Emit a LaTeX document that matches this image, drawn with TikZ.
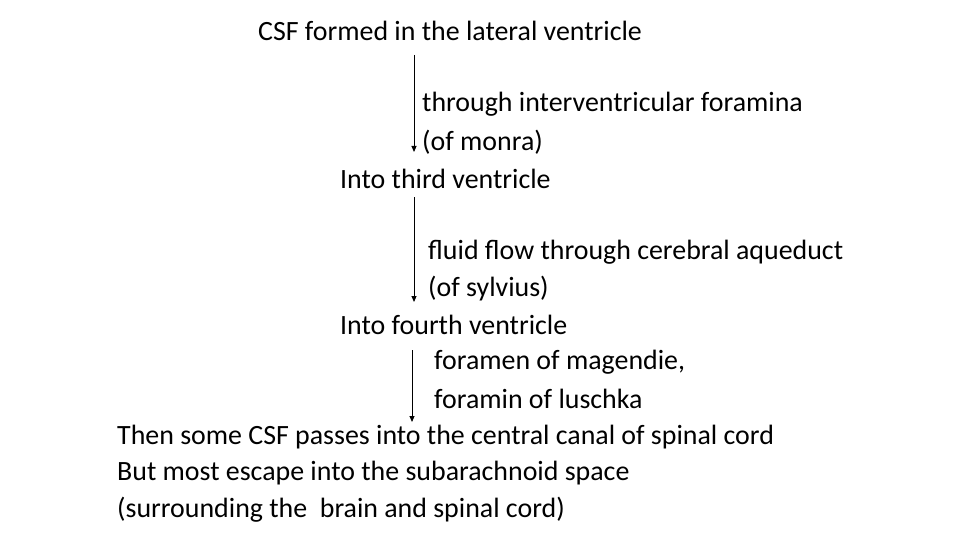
\documentclass[tikz,border=0pt]{standalone}
\usepackage{fontspec}
\setmainfont{Carlito}
\usetikzlibrary{arrows.meta}
\begin{document}
\begin{tikzpicture}[x=1pt,y=-1pt,
  txt/.style={anchor=west,inner sep=0pt,font=\fontsize{27.9}{30}\selectfont},
  flow/.style={-{Triangle[length=6pt,width=5pt]},line width=1pt}]
\useasboundingbox (0,0) rectangle (960,540);
\node[txt] (t1) at (258,31) {CSF formed in the lateral ventricle};
\node[txt] (t2) at (422,104) {through interventricular foramina};
\node[txt] (t3) at (422,142) {(of monra)};
\node[txt] (t4) at (340,179) {Into third ventricle};
\node[txt] (t5) at (428,252) {fluid flow through cerebral aqueduct};
\node[txt] (t6) at (428,289) {(of sylvius)};
\node[txt] (t7) at (340,325) {Into fourth ventricle};
\node[txt] (t8) at (434,362) {foramen of magendie,};
\node[txt] (t9) at (434,399) {foramin of luschka};
\node[txt] (t10) at (117,437) {Then some CSF passes into the central canal of spinal cord};
\node[txt] (t11) at (117,473) {But most escape into the subarachnoid space};
\node[txt] (t12) at (117,510) {(surrounding the\ \ brain and spinal cord)};
\coordinate (a1) at (414,55); \coordinate (b1) at (414,152);
\coordinate (a2) at (414,197); \coordinate (b2) at (414,302);
\coordinate (a3) at (412,350); \coordinate (b3) at (412,422);
\draw[flow] (a1) -- (b1);
\draw[flow] (a2) -- (b2);
\draw[flow] (a3) -- (b3);
\end{tikzpicture}
\end{document}
